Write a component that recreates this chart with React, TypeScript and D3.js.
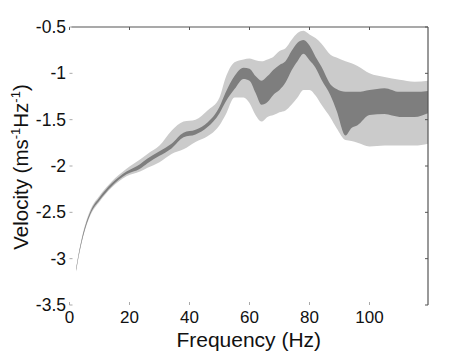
import React from "react";
import * as d3 from "d3";

const freq = [2.2, 3, 4.5, 7, 10, 14, 19, 23.5, 26, 30, 34, 38, 42, 46, 50, 52, 55, 58, 60, 62, 64, 66, 68, 70, 72, 74, 76, 78, 80, 82, 84, 87, 89, 92, 94, 96, 100, 105, 110, 115, 119.5];
const lightUpper = [-3.10, -2.95, -2.72, -2.47, -2.32, -2.17, -2.03, -1.93, -1.87, -1.78, -1.62, -1.52, -1.50, -1.40, -1.26, -1.05, -0.88, -0.85, -0.84, -0.86, -0.87, -0.85, -0.82, -0.76, -0.73, -0.64, -0.565, -0.54, -0.58, -0.62, -0.68, -0.80, -0.83, -0.87, -0.89, -0.92, -1.00, -1.04, -1.07, -1.09, -1.08];
const darkUpper = [-3.11, -2.96, -2.735, -2.49, -2.34, -2.19, -2.06, -1.98, -1.92, -1.84, -1.76, -1.64, -1.61, -1.53, -1.36, -1.21, -1.03, -0.94, -0.95, -1.03, -1.08, -1.03, -0.96, -0.91, -0.87, -0.76, -0.67, -0.64, -0.70, -0.82, -0.93, -1.12, -1.17, -1.20, -1.20, -1.20, -1.18, -1.16, -1.20, -1.20, -1.19];
const darkLower = [-3.13, -2.98, -2.76, -2.515, -2.37, -2.22, -2.09, -2.03, -1.97, -1.89, -1.81, -1.69, -1.66, -1.58, -1.43, -1.31, -1.17, -1.06, -1.08, -1.21, -1.34, -1.31, -1.23, -1.18, -1.10, -0.97, -0.87, -0.79, -0.86, -0.94, -1.07, -1.24, -1.40, -1.67, -1.59, -1.56, -1.45, -1.44, -1.47, -1.47, -1.43];
const lightLower = [-3.14, -2.99, -2.77, -2.53, -2.385, -2.235, -2.11, -2.06, -2.02, -1.96, -1.87, -1.82, -1.74, -1.68, -1.56, -1.45, -1.26, -1.26, -1.32, -1.45, -1.52, -1.47, -1.45, -1.42, -1.40, -1.34, -1.26, -1.18, -1.18, -1.24, -1.34, -1.48, -1.59, -1.72, -1.73, -1.75, -1.79, -1.78, -1.78, -1.78, -1.76];

const xTicks = [0, 20, 40, 60, 80, 100];
const yTicks = [-3.5, -3, -2.5, -2, -1.5, -1, -0.5];
const yTickLabels = ["-3.5", "-3", "-2.5", "-2", "-1.5", "-1", "-0.5"];

const W = 474;
const H = 353;
const left = 69.5;
const right = 428;
const top = 27;
const bottom = 305;

export default function App() {
  const x = d3.scaleLinear().domain([0, 119.5]).range([left, right]);
  const y = d3.scaleLinear().domain([-3.5, -0.5]).range([bottom, top]);
  const rows = freq.map((f, i) => ({ f, lu: lightUpper[i], du: darkUpper[i], dl: darkLower[i], ll: lightLower[i] }));
  type R = (typeof rows)[number];
  const lightArea = d3
    .area<R>()
    .x((d) => x(d.f))
    .y0((d) => y(d.ll))
    .y1((d) => y(d.lu))
    .curve(d3.curveMonotoneX);
  const darkArea = d3
    .area<R>()
    .x((d) => x(d.f))
    .y0((d) => y(d.dl))
    .y1((d) => y(d.du))
    .curve(d3.curveMonotoneX);
  const font = "Arial, 'Liberation Sans', Helvetica, sans-serif";
  return (
    <svg width={W} height={H} style={{ position: "absolute", left: 0, top: 0, background: "#fff" }} fontFamily={font}>
      <rect x={0} y={0} width={W} height={H} fill="#fff" />
      <path d={lightArea(rows) || ""} fill="#cbcbcb" />
      <path d={darkArea(rows) || ""} fill="#7e7e7e" />
      <line x1={left + 2} x2={right} y1={top} y2={top} stroke="#555" strokeWidth={1.2} />
      <line x1={right} x2={right} y1={top} y2={bottom} stroke="#555" strokeWidth={1.2} />
      {xTicks.map((t) => (
        <g key={"xt" + t}>
          <line x1={x(t)} x2={x(t)} y1={top} y2={top + 3} stroke="#555" />
          <line x1={x(t)} x2={x(t)} y1={bottom} y2={bottom - 3} stroke="#aaa" />
          <text x={x(t)} y={323} textAnchor="middle" fontSize={17} fill="#111">
            {t}
          </text>
        </g>
      ))}
      {yTicks.map((t, i) => (
        <g key={"yt" + t}>
          <line x1={right} x2={right - 3} y1={y(t)} y2={y(t)} stroke="#555" />
          <line x1={left} x2={left + 3} y1={y(t)} y2={y(t)} stroke="#aaa" />
          <text x={66} y={y(t) + 6} textAnchor="end" fontSize={17.5} fill="#111">
            {yTickLabels[i]}
          </text>
        </g>
      ))}
      <text x={(left + right) / 2} y={347} textAnchor="middle" fontSize={21} fill="#111">
        Frequency (Hz)
      </text>
      <text transform={`translate(28,167) rotate(-90)`} textAnchor="middle" fontSize={20.5} fill="#111">
        Velocity (ms
        <tspan dy={-8} fontSize={13}>-1</tspan>
        <tspan dy={8}>Hz</tspan>
        <tspan dy={-8} fontSize={13}>-1</tspan>
        <tspan dy={8}>)</tspan>
      </text>
    </svg>
  );
}
